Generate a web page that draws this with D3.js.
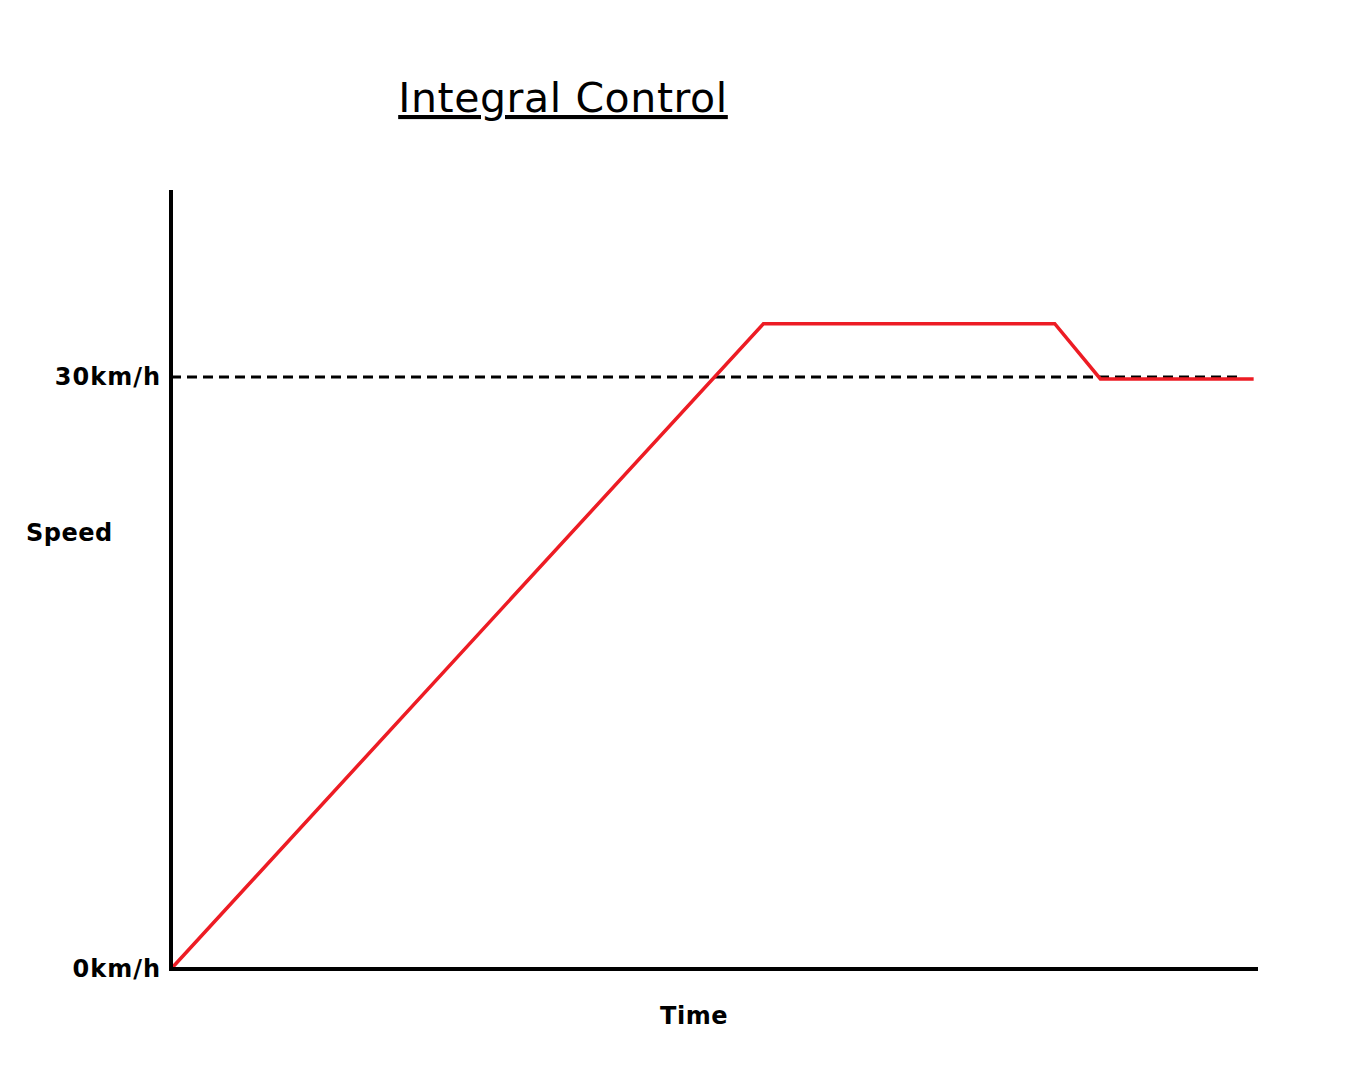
<!DOCTYPE html>
<html><head><meta charset="utf-8">
<script src="https://cdn.jsdelivr.net/npm/d3@7"></script>
<style>body{margin:0;background:#fff}</style>
</head><body>
<svg id="chart"></svg>
<script>
// data
const times = [0, 54.5, 81.3, 85.5, 99.6];
const speeds = [0, 32.7, 32.7, 29.9, 29.9];
const setpoint = 30;
const tickLabels = ["0km/h", "30km/h"];

const width = 1371, height = 1080;
const margin = { left: 171, right: 113, top: 190, bottom: 111 };

const svg = d3.select("#chart").attr("width", width).attr("height", height)
  .style("font-family", "DejaVu Sans, Verdana, sans-serif");

const x = d3.scaleLinear().domain([0, 100]).range([margin.left, width - margin.right]);
const y = d3.scaleLinear().domain([0, 30]).range([969, 377]);

// title
svg.append("text").attr("x", 563).attr("y", 112).attr("text-anchor", "middle")
  .attr("font-size", 41).attr("letter-spacing", 0.6)
  .attr("text-decoration", "underline").text("Integral Control");

// setpoint dashed line
svg.append("line")
  .attr("x1", x(0)).attr("x2", x(98.4))
  .attr("y1", y(setpoint)).attr("y2", y(setpoint))
  .attr("stroke", "#000").attr("stroke-width", 3).attr("stroke-dasharray", "10,6");

// speed line
const data = times.map((t, i) => ({ t, v: speeds[i] }));
svg.append("path").datum(data)
  .attr("fill", "none").attr("stroke", "#ed1c24").attr("stroke-width", 3.5)
  .attr("d", d3.line().x(d => x(d.t)).y(d => y(d.v)));

// axes
svg.append("line").attr("x1", x(0)).attr("x2", x(0)).attr("y1", margin.top).attr("y2", y(0))
  .attr("stroke", "#000").attr("stroke-width", 4);
svg.append("line").attr("x1", x(0) - 2).attr("x2", x(100)).attr("y1", y(0)).attr("y2", y(0))
  .attr("stroke", "#000").attr("stroke-width", 4);

// tick labels
svg.selectAll(".tick").data([0, 30]).join("text")
  .attr("x", x(0) - 10).attr("y", d => y(d) + 8).attr("text-anchor", "end")
  .attr("font-size", 24).attr("font-weight", 600).attr("letter-spacing", 1)
  .text((d, i) => tickLabels[i]);

svg.append("text").attr("x", 26).attr("y", 541).attr("font-size", 24).attr("font-weight", 600)
  .attr("letter-spacing", 0.5).text("Speed");
svg.append("text").attr("x", 694).attr("y", 1024).attr("text-anchor", "middle")
  .attr("font-size", 24).attr("font-weight", 600).attr("letter-spacing", 0.5).text("Time");
</script>
</body></html>
